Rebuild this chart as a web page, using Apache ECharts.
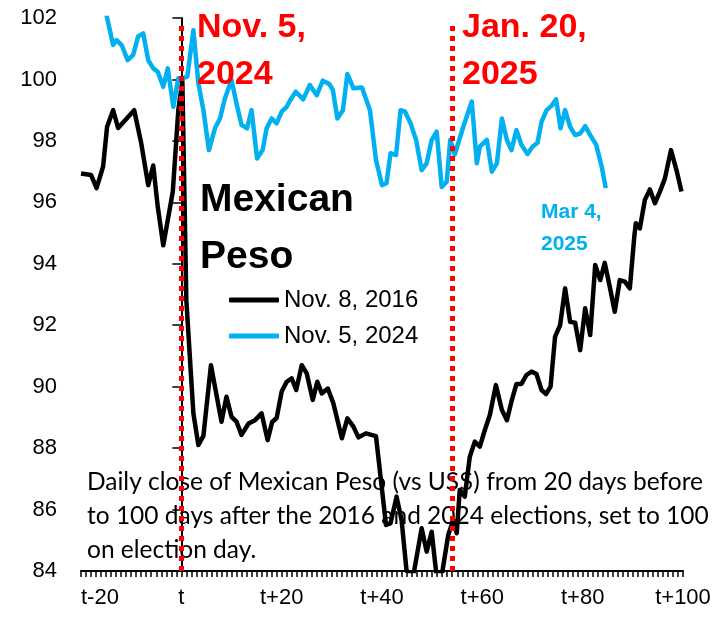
<!DOCTYPE html>
<html>
<head>
<meta charset="utf-8">
<script src="https://cdn.jsdelivr.net/npm/echarts@6/dist/echarts.min.js"></script>
<style>
  html, body { margin: 0; padding: 0; background: #fff; }
  #chart { width: 728px; height: 620px; }
</style>
</head>
<body>
<div id="chart"></div>
<script>
// trading days relative to election day (t = 0), value indexed to 100 on election day
const days2016 = [-20, -18, -16.9, -15.6, -14.8, -13.6, -12.6, -9.4, -8, -6.6, -5.6, -4.7, -3.6, -1.7, -0.6, 0.2,
  1.0, 2.4, 3.4, 4.4, 5.9, 8.0, 9.0, 10.0, 11.0, 12.0, 13.4, 14.7, 16.0, 17.2, 18.1, 19.0, 20.0, 21.0, 22.0, 22.9,
  24.0, 25.0, 26.2, 27.1, 28.0, 29.2, 30.3, 32.0, 33.1, 34.3, 35.3, 36.8, 38.8, 40.8, 41.7, 42.9, 43.9, 44.9, 46.3,
  47.9, 48.9, 49.9, 50.8, 52.0, 53.2, 54.2, 54.9, 55.5, 56.5, 57.5, 58.5, 59.5, 60.5, 61.5, 62.7, 63.9, 64.9, 65.8,
  66.8, 67.8, 68.8, 69.8, 70.8, 71.8, 72.7, 73.6, 74.5, 75.5, 76.5, 77.5, 78.5, 79.5, 80.5, 81.5, 82.5, 83.5, 84.4,
  85.4, 86.4, 87.4, 88.4, 89.4, 90.3, 90.6, 91.4, 92.4, 93.4, 94.4, 95.4, 96.4, 97.6, 98.7, 99.7];
const peso2016 = [96.94, 96.89, 96.46, 97.16, 98.46, 99.0, 98.42, 99.0, 97.93, 96.56, 97.2, 95.86, 94.6, 96.35, 99.0, 99.95,
  92.8, 89.13, 88.1, 88.4, 90.7, 88.86, 89.67, 89.02, 88.86, 88.43, 88.8, 88.91, 89.13, 88.26, 88.85, 88.98, 89.84, 90.16, 90.27, 89.89,
  90.7, 90.43, 89.57, 90.16, 89.78, 89.94, 89.46, 88.32, 88.97, 88.7, 88.35, 88.48, 88.39, 85.5, 85.55, 86.42, 85.66, 84.0, 83.9,
  85.39, 84.63, 85.28, 83.95, 83.95, 85.17, 85.66, 85.23, 86.64, 86.42, 87.72, 88.21, 88.05, 88.59, 89.08, 90.05, 89.24, 88.91, 89.51,
  90.09, 90.09, 90.38, 90.49, 90.41, 89.89, 89.76, 90.0, 91.63, 92.0, 93.2, 92.11, 92.08, 91.19, 92.55, 91.68, 93.96, 93.47, 94.03,
  93.25, 92.44, 93.47, 93.42, 93.2, 94.9, 95.32, 95.15, 96.08, 96.42, 95.97, 96.35, 96.78, 97.7, 97.05, 96.35];

const days2024 = [-20, -18, -16, -13.6, -12.9, -11.9, -10.7, -9.6, -8.6, -7.6, -6.6, -5.6, -4.7, -3.6, -2.7, -1.6, -0.6, 0.4,
  1.2, 2.4, 3.4, 4.4, 5.5, 6.7, 7.7, 8.7, 10.0, 11.0, 12.0, 13.1, 14.0, 15.1, 16.2, 17.0, 18.0, 19.0, 20.0, 21.0, 21.8, 22.8,
  24.3, 25.6, 27.0, 28.2, 29.5, 30.2, 31.1, 32.2, 33.1, 34.3, 36.0, 37.6, 38.8, 40.0, 40.9, 41.7, 42.8, 43.7, 44.6, 45.7,
  46.8, 47.9, 48.9, 49.9, 50.9, 51.9, 52.9, 53.6, 54.5, 56.2, 57.9, 58.9, 59.5, 60.9, 61.9, 62.9, 63.9, 64.9, 65.8, 66.8,
  67.8, 69.0, 70.0, 71.0, 71.8, 72.8, 73.8, 74.7, 75.6, 76.5, 77.5, 78.5, 79.5, 80.5, 81.5, 82.7, 83.8, 84.6];
const peso2024 = [103.0, 103.3, 102.9, 101.12, 101.28, 101.12, 100.63, 100.8, 101.4, 101.5, 100.63, 100.36, 100.25, 99.76, 100.36, 99.11, 100.04, 100.04,
  100.1, 101.6, 99.87, 99.0, 97.7, 98.41, 98.73, 99.39, 99.98, 99.22, 98.52, 98.41, 99.0, 97.43, 97.7, 98.41, 98.73, 98.57, 98.95, 99.11, 99.35, 99.6,
  99.35, 99.82, 99.49, 99.96, 99.85, 99.66, 98.73, 99.0, 100.18, 99.71, 99.74, 99.0, 97.38, 96.56, 96.62, 97.6, 97.54, 99.0, 98.95, 98.57,
  98.03, 97.05, 97.27, 98.03, 98.3, 96.5, 96.67, 98.03, 97.55, 98.46, 99.28, 97.27, 97.81, 98.03, 97.0, 97.27, 98.73, 98.03, 97.7, 98.35,
  97.87, 97.57, 97.81, 97.94, 98.62, 99.0, 99.14, 99.35, 98.41, 99.0, 98.46, 98.19, 98.24, 98.48, 98.19, 97.87, 97.16, 96.46];

const seriesNames = ['Nov. 8, 2016', 'Nov. 5, 2024'];
const eventDays = [0, 54];   // election day, inauguration day
const yTicks = { min: 84, max: 102, step: 2 };
const xTicks = { min: -20, max: 100, step: 20 };

const note = 'Daily close of Mexican Peso (vs US$) from 20 days before\n' +
  'to 100 days after the 2016 and 2024 elections, set to 100\n' +
  'on election day.';

const chart = echarts.init(document.getElementById('chart'));

const pairs = (xs, ys) => xs.map((x, i) => [x, ys[i]]);

const option = {
  backgroundColor: '#fff',
  animation: false,
  grid: { left: 81, right: 45, top: 18, bottom: 49 },
  legend: {
    data: seriesNames,
    orient: 'vertical',
    left: 224,
    top: 283,
    icon: 'roundRect',
    itemWidth: 50,
    itemHeight: 5,
    itemGap: 12,
    textStyle: { fontFamily: 'Liberation Sans', fontSize: 24, color: '#000' }
  },
  xAxis: {
    type: 'value',
    min: xTicks.min,
    max: xTicks.max,
    interval: xTicks.step,
    axisLine: { lineStyle: { color: '#000', width: 2 } },
    axisTick: { show: true, length: 6, lineStyle: { color: '#000', width: 1.5 } },
    minorTick: { show: true, splitNumber: 20, length: 6, lineStyle: { color: '#000', width: 1.5 } },
    splitLine: { show: false },
    axisLabel: {
      margin: 16,
      alignMinLabel: 'left',
      fontFamily: 'Liberation Sans',
      fontSize: 22,
      color: '#000',
      formatter: v => v === 0 ? 't' : (v < 0 ? 't' + v : 't+' + v)
    }
  },
  yAxis: {
    type: 'value',
    min: yTicks.min,
    max: yTicks.max,
    interval: yTicks.step,
    axisLine: { show: true, lineStyle: { color: '#000', width: 2 } },
    axisTick: { show: true, length: 9, lineStyle: { color: '#000', width: 1.5 } },
    splitLine: { show: false },
    axisLabel: { margin: 24, fontFamily: 'Liberation Sans', fontSize: 22, color: '#000' }
  },
  series: [
    {
      name: seriesNames[0],
      type: 'line',
      data: pairs(days2016, peso2016),
      showSymbol: false,
      symbol: 'none',
      color: '#000',
      lineStyle: { width: 4.5, color: '#000', join: 'round' },
      z: 3,
      markLine: {
        silent: true,
        symbol: 'none',
        label: { show: false },
        lineStyle: { color: '#ff0000', width: 5, type: [5, 5], opacity: 1 },
        emphasis: { disabled: true },
        data: eventDays.map(d => [{ coord: [d, yTicks.min] }, { coord: [d, 101.85] }])
      }
    },
    {
      name: seriesNames[1],
      type: 'line',
      data: pairs(days2024, peso2024),
      showSymbol: false,
      symbol: 'none',
      color: '#00b0f0',
      lineStyle: { width: 4.5, color: '#00b0f0', join: 'round' },
      z: 4
    }
  ],
  graphic: [
    { type: 'text', left: 197, top: 4, z: 10,
      style: { text: 'Nov. 5,\n2024', fill: '#ff0000', font: 'bold 34px "Liberation Sans"', lineHeight: 47 } },
    { type: 'text', left: 462, top: 4, z: 10,
      style: { text: 'Jan. 20,\n2025', fill: '#ff0000', font: 'bold 34px "Liberation Sans"', lineHeight: 47 } },
    { type: 'text', left: 200, top: 172, z: 10,
      style: { text: 'Mexican\nPeso', fill: '#000', font: 'bold 39px "Liberation Sans"', lineHeight: 57 } },
    { type: 'text', left: 541, top: 196, z: 10,
      style: { text: 'Mar 4,\n2025', fill: '#00b0f0', font: 'bold 21px "Liberation Sans"', lineHeight: 32 } },
    { type: 'text', left: 87, top: 465, z: 0,
      style: { text: note, fill: '#000', font: '24.5px Lato', lineHeight: 34 } }
  ]
};

chart.setOption(option);
</script>
</body>
</html>
